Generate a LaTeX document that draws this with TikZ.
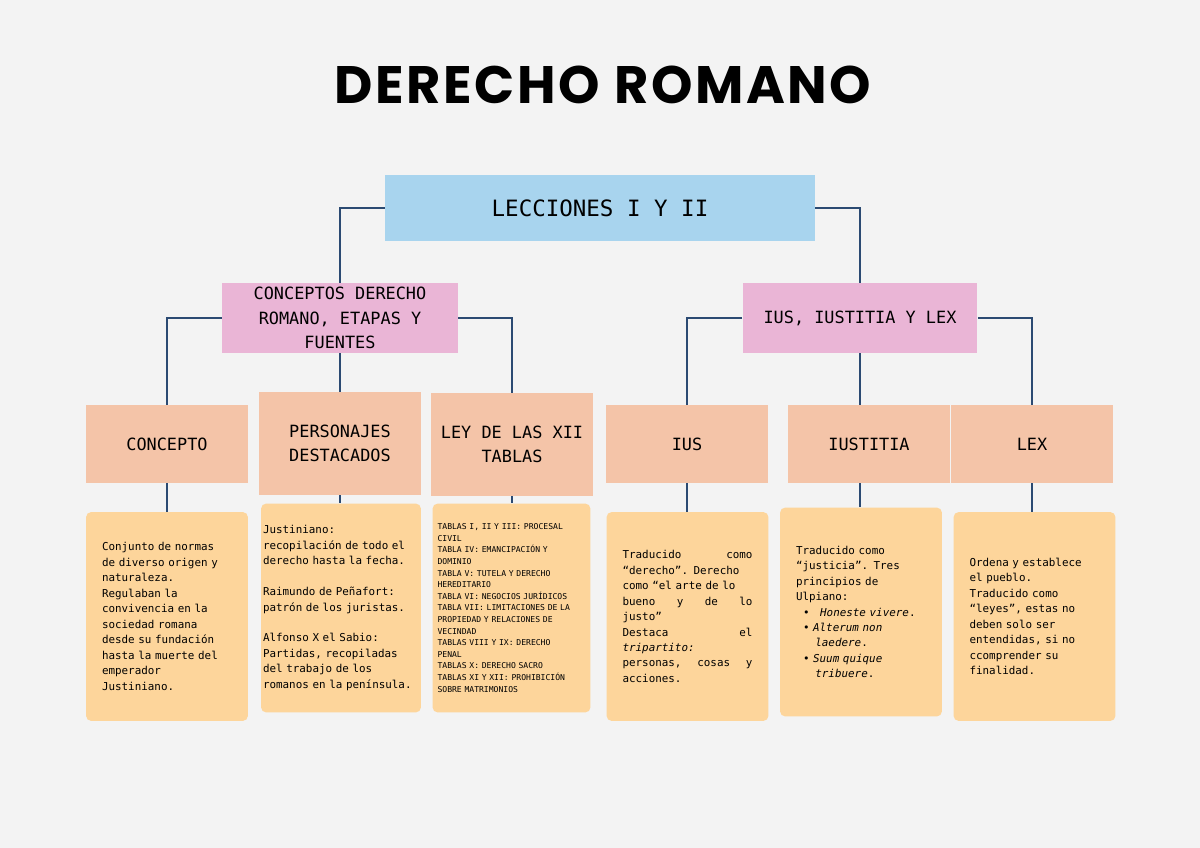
\documentclass[tikz,border=0pt]{standalone}
\usepackage{fontspec}
\setmainfont{DejaVu Sans Mono}
\newfontfamily\titlefont[LetterSpace=5]{Poppins}
\definecolor{fondo}{HTML}{F3F3F3}
\definecolor{azul}{HTML}{A8D4EE}
\definecolor{rosa}{HTML}{EAB5D6}
\definecolor{salmon}{HTML}{F4C4A8}
\definecolor{crema}{HTML}{FDD59B}
\definecolor{linea}{HTML}{2B4A72}
\tikzset{
  caja/.style={inner sep=0pt, align=center, font=\fontsize{9.6}{14}\selectfont},
  tema/.style={caja, fill=salmon, minimum width=3.26cm},
  nota/.style={fill=crema, rounded corners=3pt, minimum height=4.18cm,
    text width=2.6cm, inner xsep=0.32cm, inner ysep=0pt, align=left,
    font=\fontsize{6.2}{8.8}\selectfont},
  enlace/.style={draw=linea, line width=1.1pt}
}
\begin{document}
\begin{tikzpicture}[x=0.02cm, y=-0.02cm]
  \fill[fondo] (0,0) rectangle (1200,848);
  \useasboundingbox (0,0) rectangle (1200,848);

  \node[font=\titlefont\bfseries\fontsize{30}{32}\selectfont] (titulo) at (603,85) {DERECHO ROMANO};

  \node[caja, fill=azul, minimum width=8.6cm, minimum height=1.32cm,
        font=\fontsize{12.8}{16}\selectfont] (lecciones) at (600,208) {LECCIONES I Y II};

  \node[caja, fill=rosa, minimum width=4.72cm, minimum height=1.4cm] (conceptos) at (340,318)
    {CONCEPTOS DERECHO\\ROMANO, ETAPAS Y\\FUENTES};
  \node[caja, fill=rosa, minimum width=4.7cm, minimum height=1.4cm] (iusgen) at (860,318)
    {IUS, IUSTITIA Y LEX};

  % fila de temas
  \node[tema, minimum height=1.56cm] (concepto) at (167,444) {CONCEPTO};
  \node[tema, minimum height=2.06cm] (personajes) at (340,443.5) {PERSONAJES\\DESTACADOS};
  \node[tema, minimum height=2.06cm] (tablas) at (512,444.5) {LEY DE LAS XII\\TABLAS};
  \node[tema, minimum height=1.56cm] (ius) at (687,444) {IUS};
  \node[tema, minimum height=1.56cm] (iustitia) at (869,444) {IUSTITIA};
  \node[tema, minimum height=1.56cm] (lex) at (1032,444) {LEX};

  % notas
  \node[nota] (n-concepto) at (167,616.5) {Conjunto de normas\\de diverso origen y\\naturaleza.\\Regulaban la\\convivencia en la\\sociedad romana\\desde su fundación\\hasta la muerte del\\emperador\\Justiniano.};
  \node[nota, text width=3.12cm, inner xsep=0.04cm] (n-personajes) at (341,608) {Justiniano:\\recopilación de todo el\\derecho hasta la fecha.\\[8.8pt]Raimundo de Peñafort:\\patrón de los juristas.\\[8.8pt]Alfonso X el Sabio:\\Partidas, recopiladas\\del trabajo de los\\romanos en la península.};
  \node[nota, text width=2.96cm, inner xsep=0.1cm, font=\fontsize{4.6}{6.6}\selectfont] (n-tablas) at (511.5,608)
    {TABLAS I, II Y III: PROCESAL\\CIVIL\\TABLA IV: EMANCIPACIÓN Y\\DOMINIO\\TABLA V: TUTELA Y DERECHO\\HEREDITARIO\\TABLA VI: NEGOCIOS JURÍDICOS\\TABLA VII: LIMITACIONES DE LA\\PROPIEDAD Y RELACIONES DE\\VECINDAD\\TABLAS VIII Y IX: DERECHO\\PENAL\\TABLAS X: DERECHO SACRO\\TABLAS XI Y XII: PROHIBICIÓN\\SOBRE MATRIMONIOS};
  \node[nota] (n-ius) at (687.5,616.5)
    {Traducido\hfill como\\“derecho”. Derecho\\como “el arte de lo\\bueno\hfill y\hfill de\hfill lo\\justo”\\Destaca\hfill el\\\textit{tripartito:}\\personas,\hfill cosas\hfill y\\acciones.};
  \node[nota] (n-iustitia) at (861,612)
    {Traducido como\\“justicia”. Tres\\principios de\\Ulpiano:\\
     \hspace*{4pt}\textbullet\hspace{6pt}\textit{Honeste vivere}.\\
     \hspace*{4pt}\textbullet\hspace{2pt}\textit{Alterum non}\\
     \hspace*{11pt}\textit{laedere}.\\
     \hspace*{4pt}\textbullet\hspace{2pt}\textit{Suum quique}\\
     \hspace*{11pt}\textit{tribuere}.};
  \node[nota] (n-lex) at (1034.5,616.5)
    {Ordena y establece\\el pueblo.\\Traducido como\\“leyes”, estas no\\deben solo ser\\entendidas, si no\\ccomprender su\\finalidad.};

  % conectores
  \draw[enlace] (lecciones.west) -| (conceptos.north);
  \draw[enlace] (lecciones.east) -| (iusgen.north);
  \draw[enlace] (conceptos.west) -| (concepto.north);
  \draw[enlace] (conceptos.east) -| (tablas.north);
  \draw[enlace] (conceptos.south) -- (personajes.north);
  \draw[enlace] (iusgen.west) -| (ius.north);
  \draw[enlace] (iusgen.east) -| (lex.north);
  \draw[enlace] (iusgen.south) -- (iusgen.south |- iustitia.north);
  \draw[enlace] (concepto.south) -- (concepto.south |- n-concepto.north);
  \draw[enlace] (personajes.south) -- (personajes.south |- n-personajes.north);
  \draw[enlace] (tablas.south) -- (tablas.south |- n-tablas.north);
  \draw[enlace] (ius.south) -- (ius.south |- n-ius.north);
  \draw[enlace] (iusgen.south |- iustitia.south) -- (iusgen.south |- n-iustitia.north);
  \draw[enlace] (lex.south) -- (lex.south |- n-lex.north);
\end{tikzpicture}
\end{document}
